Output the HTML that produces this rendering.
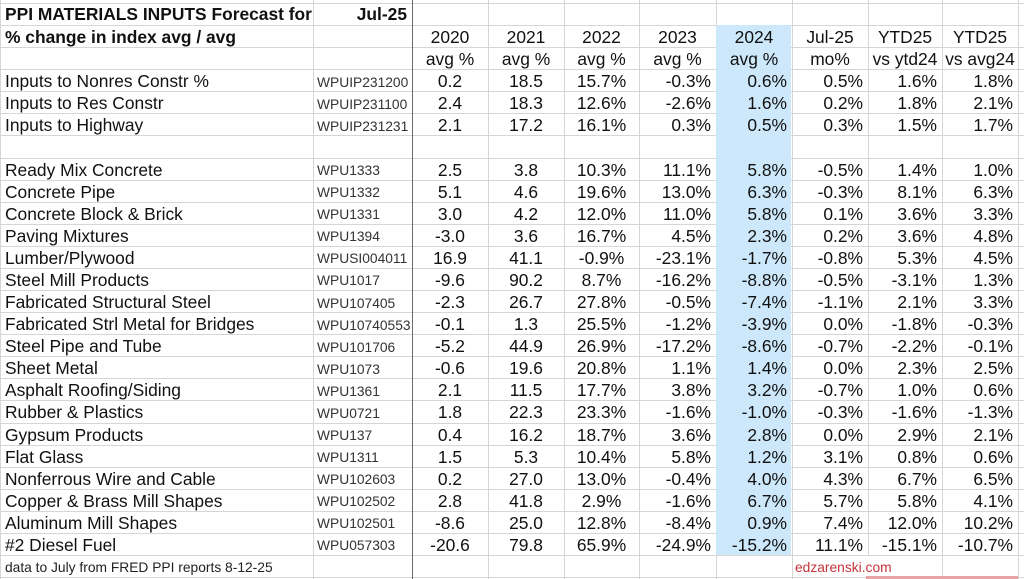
<!DOCTYPE html>
<html><head><meta charset="utf-8">
<style>
html,body{margin:0;padding:0;background:#fff;}
#w{position:relative;width:1024px;height:579px;overflow:hidden;background:#fff;font-family:"Liberation Sans",Arial,sans-serif;color:#111;}
.hl{position:absolute;left:0;width:1024px;height:1px;background:#d6d6d6;}
.vl{position:absolute;top:0;width:1px;height:579px;background:#d6d6d6;}
.r{position:absolute;left:0;width:1024px;height:22px;line-height:22px;font-size:17.4px;}
.r span{position:absolute;top:1px;white-space:nowrap;}
.r span.b{top:2.5px;}
.a{left:5px;}
.b{left:317px;width:94px;overflow:hidden;font-size:13.8px;color:#333;}
.c{left:412px;width:76px;text-align:center;}
.d{left:488px;width:76px;text-align:center;}
.e{left:564px;width:75px;text-align:center;}
.f{left:639px;width:72px;text-align:right;}
.g{left:716px;width:71px;text-align:right;}
.h{left:792px;width:71px;text-align:right;}
.i{left:868px;width:69px;text-align:right;}
.j{left:942px;width:71px;text-align:right;}
.fc{left:639px;width:77px;text-align:center;}
.gc{left:716px;width:76px;text-align:center;}
.hc{left:792px;width:76px;text-align:center;}
.ic{left:868px;width:74px;text-align:center;}
.jc{left:942px;width:76px;text-align:center;}
.bold{font-weight:bold;}
</style></head><body>
<div id="w">
<div class="hl" style="top:2.9px"></div>
<div class="hl" style="top:25px"></div>
<div class="hl" style="top:47px"></div>
<div class="hl" style="top:69px"></div>
<div class="hl" style="top:91.2px"></div>
<div class="hl" style="top:113.3px"></div>
<div class="hl" style="top:135.4px"></div>
<div class="hl" style="top:157.5px"></div>
<div class="hl" style="top:179.5px"></div>
<div class="hl" style="top:201.6px"></div>
<div class="hl" style="top:223.7px"></div>
<div class="hl" style="top:245.8px"></div>
<div class="hl" style="top:267.9px"></div>
<div class="hl" style="top:290px"></div>
<div class="hl" style="top:312px"></div>
<div class="hl" style="top:334.1px"></div>
<div class="hl" style="top:356.2px"></div>
<div class="hl" style="top:378.3px"></div>
<div class="hl" style="top:400.4px"></div>
<div class="hl" style="top:422.5px"></div>
<div class="hl" style="top:444.5px"></div>
<div class="hl" style="top:466.6px"></div>
<div class="hl" style="top:488.7px"></div>
<div class="hl" style="top:510.8px"></div>
<div class="hl" style="top:532.9px"></div>
<div class="hl" style="top:555px"></div>
<div class="hl" style="top:577px"></div>
<div class="vl" style="left:0"></div>
<div class="vl" style="left:313px"></div>
<div class="vl" style="left:488px"></div>
<div class="vl" style="left:564px"></div>
<div class="vl" style="left:639px"></div>
<div class="vl" style="left:716px"></div>
<div class="vl" style="left:792px"></div>
<div class="vl" style="left:868px;height:555px"></div>
<div class="vl" style="left:942px"></div>
<div class="vl" style="left:1018px"></div>
<div class="vl" style="left:412px;background:#6a6a6a"></div>
<div style="position:absolute;left:716px;top:25px;width:75px;height:530px;background:#cde8fb"></div>
<div style="position:absolute;left:866px;top:576px;width:152px;height:3px;background:#e8a3a6"></div>

<div class="r" style="top:2px"><span class="a bold">PPI MATERIALS INPUTS Forecast for</span><span class="bold" style="left:313px;width:94px;text-align:right">Jul-25</span></div>
<div class="r" style="top:25px"><span class="a bold">% change in index avg / avg</span><span class="c">2020</span><span class="d">2021</span><span class="e">2022</span><span class="fc">2023</span><span class="gc">2024</span><span class="hc">Jul-25</span><span class="ic">YTD25</span><span class="jc">YTD25</span></div>
<div class="r" style="top:47px"><span class="c">avg %</span><span class="d">avg %</span><span class="e">avg %</span><span class="fc">avg %</span><span class="gc">avg %</span><span class="hc">mo%</span><span class="ic">vs ytd24</span><span class="jc">vs avg24</span></div>

<div class="r" style="top:69.1px"><span class="a">Inputs to Nonres Constr %</span><span class="b">WPUIP231200</span><span class="c">0.2</span><span class="d">18.5</span><span class="e">15.7%</span><span class="f">-0.3%</span><span class="g">0.6%</span><span class="h">0.5%</span><span class="i">1.6%</span><span class="j">1.8%</span></div>
<div class="r" style="top:91.2px"><span class="a">Inputs to Res Constr</span><span class="b">WPUIP231100</span><span class="c">2.4</span><span class="d">18.3</span><span class="e">12.6%</span><span class="f">-2.6%</span><span class="g">1.6%</span><span class="h">0.2%</span><span class="i">1.8%</span><span class="j">2.1%</span></div>
<div class="r" style="top:113.3px"><span class="a">Inputs to Highway</span><span class="b">WPUIP231231</span><span class="c">2.1</span><span class="d">17.2</span><span class="e">16.1%</span><span class="f">0.3%</span><span class="g">0.5%</span><span class="h">0.3%</span><span class="i">1.5%</span><span class="j">1.7%</span></div>

<div class="r" style="top:157.5px"><span class="a">Ready Mix Concrete</span><span class="b">WPU1333</span><span class="c">2.5</span><span class="d">3.8</span><span class="e">10.3%</span><span class="f">11.1%</span><span class="g">5.8%</span><span class="h">-0.5%</span><span class="i">1.4%</span><span class="j">1.0%</span></div>
<div class="r" style="top:179.5px"><span class="a">Concrete Pipe</span><span class="b">WPU1332</span><span class="c">5.1</span><span class="d">4.6</span><span class="e">19.6%</span><span class="f">13.0%</span><span class="g">6.3%</span><span class="h">-0.3%</span><span class="i">8.1%</span><span class="j">6.3%</span></div>
<div class="r" style="top:201.6px"><span class="a">Concrete Block &amp; Brick</span><span class="b">WPU1331</span><span class="c">3.0</span><span class="d">4.2</span><span class="e">12.0%</span><span class="f">11.0%</span><span class="g">5.8%</span><span class="h">0.1%</span><span class="i">3.6%</span><span class="j">3.3%</span></div>
<div class="r" style="top:223.7px"><span class="a">Paving Mixtures</span><span class="b">WPU1394</span><span class="c">-3.0</span><span class="d">3.6</span><span class="e">16.7%</span><span class="f">4.5%</span><span class="g">2.3%</span><span class="h">0.2%</span><span class="i">3.6%</span><span class="j">4.8%</span></div>
<div class="r" style="top:245.8px"><span class="a">Lumber/Plywood</span><span class="b">WPUSI004011</span><span class="c">16.9</span><span class="d">41.1</span><span class="e">-0.9%</span><span class="f">-23.1%</span><span class="g">-1.7%</span><span class="h">-0.8%</span><span class="i">5.3%</span><span class="j">4.5%</span></div>
<div class="r" style="top:267.9px"><span class="a">Steel Mill Products</span><span class="b">WPU1017</span><span class="c">-9.6</span><span class="d">90.2</span><span class="e">8.7%</span><span class="f">-16.2%</span><span class="g">-8.8%</span><span class="h">-0.5%</span><span class="i">-3.1%</span><span class="j">1.3%</span></div>
<div class="r" style="top:290px"><span class="a">Fabricated Structural Steel</span><span class="b">WPU107405</span><span class="c">-2.3</span><span class="d">26.7</span><span class="e">27.8%</span><span class="f">-0.5%</span><span class="g">-7.4%</span><span class="h">-1.1%</span><span class="i">2.1%</span><span class="j">3.3%</span></div>
<div class="r" style="top:312px"><span class="a">Fabricated Strl Metal for Bridges</span><span class="b">WPU10740553</span><span class="c">-0.1</span><span class="d">1.3</span><span class="e">25.5%</span><span class="f">-1.2%</span><span class="g">-3.9%</span><span class="h">0.0%</span><span class="i">-1.8%</span><span class="j">-0.3%</span></div>
<div class="r" style="top:334.1px"><span class="a">Steel Pipe and Tube</span><span class="b">WPU101706</span><span class="c">-5.2</span><span class="d">44.9</span><span class="e">26.9%</span><span class="f">-17.2%</span><span class="g">-8.6%</span><span class="h">-0.7%</span><span class="i">-2.2%</span><span class="j">-0.1%</span></div>
<div class="r" style="top:356.2px"><span class="a">Sheet Metal</span><span class="b">WPU1073</span><span class="c">-0.6</span><span class="d">19.6</span><span class="e">20.8%</span><span class="f">1.1%</span><span class="g">1.4%</span><span class="h">0.0%</span><span class="i">2.3%</span><span class="j">2.5%</span></div>
<div class="r" style="top:378.3px"><span class="a">Asphalt Roofing/Siding</span><span class="b">WPU1361</span><span class="c">2.1</span><span class="d">11.5</span><span class="e">17.7%</span><span class="f">3.8%</span><span class="g">3.2%</span><span class="h">-0.7%</span><span class="i">1.0%</span><span class="j">0.6%</span></div>
<div class="r" style="top:400.4px"><span class="a">Rubber &amp; Plastics</span><span class="b">WPU0721</span><span class="c">1.8</span><span class="d">22.3</span><span class="e">23.3%</span><span class="f">-1.6%</span><span class="g">-1.0%</span><span class="h">-0.3%</span><span class="i">-1.6%</span><span class="j">-1.3%</span></div>
<div class="r" style="top:422.5px"><span class="a">Gypsum Products</span><span class="b">WPU137</span><span class="c">0.4</span><span class="d">16.2</span><span class="e">18.7%</span><span class="f">3.6%</span><span class="g">2.8%</span><span class="h">0.0%</span><span class="i">2.9%</span><span class="j">2.1%</span></div>
<div class="r" style="top:444.5px"><span class="a">Flat Glass</span><span class="b">WPU1311</span><span class="c">1.5</span><span class="d">5.3</span><span class="e">10.4%</span><span class="f">5.8%</span><span class="g">1.2%</span><span class="h">3.1%</span><span class="i">0.8%</span><span class="j">0.6%</span></div>
<div class="r" style="top:466.6px"><span class="a">Nonferrous Wire and Cable</span><span class="b">WPU102603</span><span class="c">0.2</span><span class="d">27.0</span><span class="e">13.0%</span><span class="f">-0.4%</span><span class="g">4.0%</span><span class="h">4.3%</span><span class="i">6.7%</span><span class="j">6.5%</span></div>
<div class="r" style="top:488.7px"><span class="a">Copper &amp; Brass Mill Shapes</span><span class="b">WPU102502</span><span class="c">2.8</span><span class="d">41.8</span><span class="e">2.9%</span><span class="f">-1.6%</span><span class="g">6.7%</span><span class="h">5.7%</span><span class="i">5.8%</span><span class="j">4.1%</span></div>
<div class="r" style="top:510.8px"><span class="a">Aluminum Mill Shapes</span><span class="b">WPU102501</span><span class="c">-8.6</span><span class="d">25.0</span><span class="e">12.8%</span><span class="f">-8.4%</span><span class="g">0.9%</span><span class="h">7.4%</span><span class="i">12.0%</span><span class="j">10.2%</span></div>
<div class="r" style="top:532.9px"><span class="a">#2 Diesel Fuel</span><span class="b">WPU057303</span><span class="c">-20.6</span><span class="d">79.8</span><span class="e">65.9%</span><span class="f">-24.9%</span><span class="g">-15.2%</span><span class="h">11.1%</span><span class="i">-15.1%</span><span class="j">-10.7%</span></div>
<div class="r" style="top:556px;font-size:13.8px"><span class="a" style="color:#222">data to July from FRED PPI reports 8-12-25</span><span style="left:795px;color:#c4343a">edzarenski.com</span></div>
</div>
</body></html>
